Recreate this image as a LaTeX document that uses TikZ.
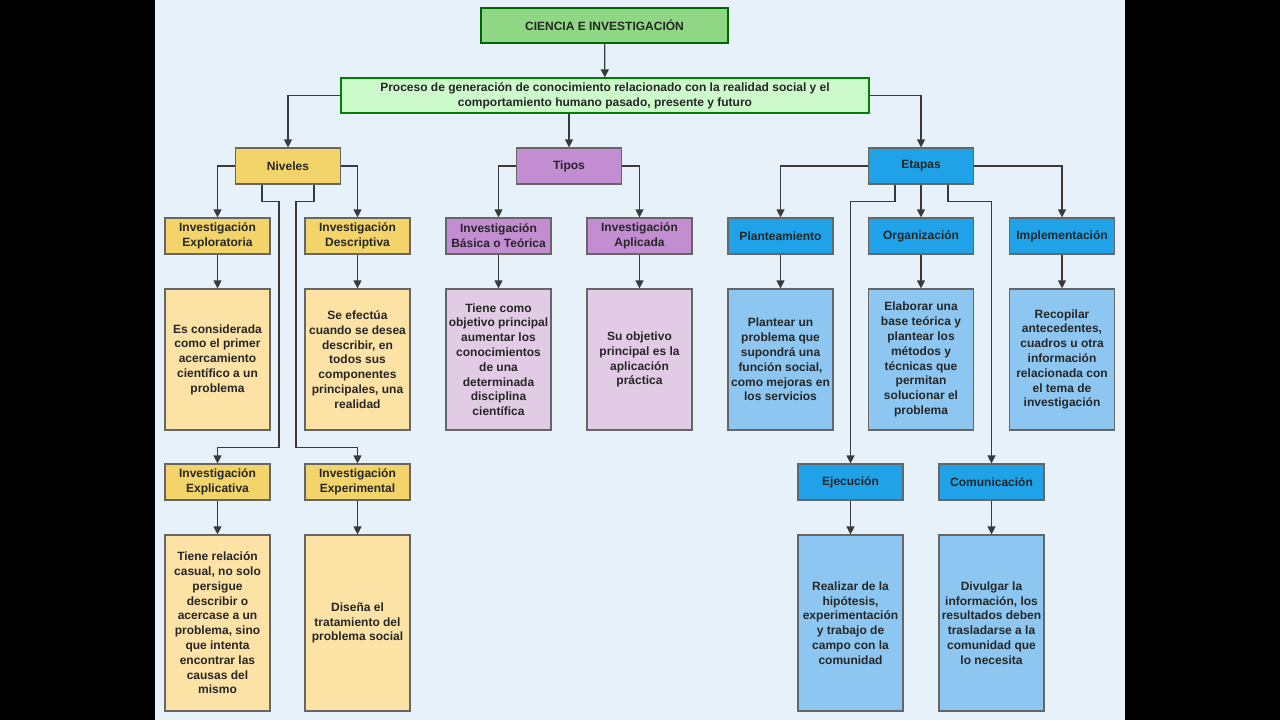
\documentclass[tikz,border=0pt]{standalone}
\usepackage{fontspec}
\setmainfont{Liberation Sans}
\usetikzlibrary{arrows.meta}
\definecolor{bgblue}{HTML}{E6F1FA}
\definecolor{lineg}{HTML}{3A3A3A}
\definecolor{greenA}{HTML}{8FD784}
\definecolor{greenB}{HTML}{CDFACB}
\definecolor{yelA}{HTML}{F3D46B}
\definecolor{yelB}{HTML}{FDE2A6}
\definecolor{purA}{HTML}{C38DD2}
\definecolor{purB}{HTML}{E2CBE5}
\definecolor{bluA}{HTML}{20A2E8}
\definecolor{bluB}{HTML}{8DC7F1}

\begin{document}
\begin{tikzpicture}[x=0.5pt,y=-0.5pt,>={Triangle[length=4pt,width=4pt]},
  box/.style={draw=black!60,line width=0.6pt,align=center,inner sep=1pt,
    font=\fontsize{6}{7.4}\selectfont\bfseries,text=black!85},
  head/.style={box,minimum width=52.5pt,minimum height=18pt},
  desc/.style={box,minimum width=52.5pt,minimum height=70.5pt},
  ldesc/.style={box,minimum width=52.5pt,minimum height=88pt},
  arr/.style={->,draw=lineg,line width=0.6pt}]

  \fill[black] (0,0) rectangle (1280,720);
  \fill[bgblue] (155,0) rectangle (1125,720);

  % top
  \node[box,fill=greenA,draw=green!40!black,minimum width=123.5pt,minimum height=17.5pt] (cie) at (604.5,25.5) {CIENCIA E INVESTIGACIÓN};
  \node[box,fill=greenB,draw=green!50!black,minimum width=264pt,minimum height=17.5pt] (proc) at (605,95.5)
    {Proceso de generación de conocimiento relacionado con la realidad social y el\\comportamiento humano pasado, presente y futuro};

  % second level
  \node[head,fill=yelA] (niv) at (288,166) {Niveles};
  \node[head,fill=purA] (tip) at (569,166) {Tipos};
  \node[head,fill=bluA] (eta) at (921,166) {Etapas};

  % niveles
  \node[head,fill=yelA] (explo) at (217.5,236) {Investigación\\Exploratoria};
  \node[head,fill=yelA] (descr) at (357.5,236) {Investigación\\Descriptiva};
  \node[desc,fill=yelB] (explo d) at (217.5,359.5) {Es considerada\\como el primer\\acercamiento\\científico a un\\problema};
  \node[desc,fill=yelB] (descr d) at (357.5,359.5) {Se efectúa\\cuando se desea\\describir, en\\todos sus\\componentes\\principales, una\\realidad};
  \node[head,fill=yelA] (expli) at (217.5,482) {Investigación\\Explicativa};
  \node[head,fill=yelA] (exper) at (357.5,482) {Investigación\\Experimental};
  \node[ldesc,fill=yelB] (expli d) at (217.5,623) {Tiene relación\\casual, no solo\\persigue\\describir o\\acercase a un\\problema, sino\\que intenta\\encontrar las\\causas del\\mismo};
  \node[ldesc,fill=yelB] (exper d) at (357.5,623) {Diseña el\\tratamiento del\\problema social};

  % tipos
  \node[head,fill=purA] (bas) at (498.5,236) {Investigación\\Básica o Teórica};
  \node[head,fill=purA] (apl) at (639.5,236) {Investigación\\Aplicada};
  \node[desc,fill=purB] (bas d) at (498.5,359.5) {Tiene como\\objetivo principal\\aumentar los\\conocimientos\\de una\\determinada\\disciplina\\científica};
  \node[desc,fill=purB] (apl d) at (639.5,359.5) {Su objetivo\\principal es la\\aplicación\\práctica};

  % etapas
  \node[head,fill=bluA] (pla) at (780.5,236) {Planteamiento};
  \node[head,fill=bluA] (org) at (921,236) {Organización};
  \node[head,fill=bluA] (imp) at (1062,236) {Implementación};
  \node[desc,fill=bluB] (pla d) at (780.5,359.5) {Plantear un\\problema que\\supondrá una\\función social,\\como mejoras en\\los servicios};
  \node[desc,fill=bluB] (org d) at (921,359.5) {Elaborar una\\base teórica y\\plantear los\\métodos y\\técnicas que\\permitan\\solucionar el\\problema};
  \node[desc,fill=bluB] (imp d) at (1062,359.5) {Recopilar\\antecedentes,\\cuadros u otra\\información\\relacionada con\\el tema de\\investigación};
  \node[head,fill=bluA] (eje) at (850.5,482) {Ejecución};
  \node[head,fill=bluA] (com) at (991.5,482) {Comunicación};
  \node[ldesc,fill=bluB] (eje d) at (850.5,623) {Realizar de la\\hipótesis,\\experimentación\\y trabajo de\\campo con la\\comunidad};
  \node[ldesc,fill=bluB] (com d) at (991.5,623) {Divulgar la\\información, los\\resultados deben\\trasladarse a la\\comunidad que\\lo necesita};

  % connectors
  \draw[arr] (cie) -- (proc);
  \draw[arr] (proc.west) -| (niv.north);
  \draw[arr] (proc.south -| tip.north) -- (tip.north);
  \draw[arr] (proc.east) -| (eta.north);

  \draw[arr] (niv.west) -| (explo.north);
  \draw[arr] (niv.east) -| (descr.north);
  \draw[arr] ([xshift=-13pt]niv.south) -- ++(0,17) -- ++(17,0) -- ++(0,246) -| (expli.north);
  \draw[arr] ([xshift=13pt]niv.south) -- ++(0,17) -- ++(-18,0) -- ++(0,246) -| (exper.north);
  \draw[arr] (tip.west) -| (bas.north);
  \draw[arr] (tip.east) -| (apl.north);
  \draw[arr] (eta.west) -| (pla.north);
  \draw[arr] (eta.east) -| (imp.north);
  \draw[arr] (eta) -- (org);
  \draw[arr] ([xshift=-13pt]eta.south) -- ++(0,17) -| (eje.north);
  \draw[arr] ([xshift=13.5pt]eta.south) -- ++(0,17) -| (com.north);

  \foreach \h in {explo,descr,expli,exper,bas,apl,pla,org,imp,eje,com}
    \draw[arr] (\h) -- (\h\space d);
\end{tikzpicture}
\end{document}
